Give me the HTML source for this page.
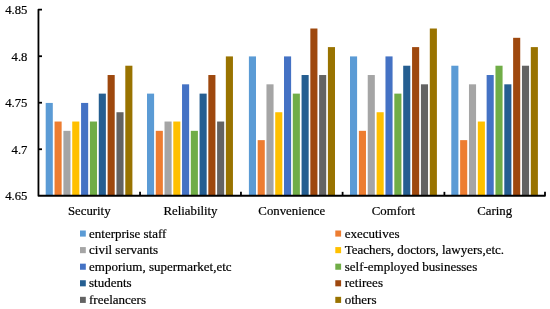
<!DOCTYPE html><html><head><meta charset="utf-8"><title>chart</title><style>html,body{margin:0;padding:0;background:#fff}svg{display:block}text{font-family:"Liberation Serif",serif;font-size:13px;fill:#000;stroke:#000;stroke-width:0.2px}.y{font-size:12.7px}.c{font-size:12.8px}</style></head><body>
<svg width="550" height="309" viewBox="0 0 550 309">
<rect width="550" height="309" fill="#fff"/>
<rect x="45.70" y="102.93" width="7.1" height="92.82" fill="#5B9BD5"/>
<rect x="54.54" y="121.53" width="7.1" height="74.22" fill="#ED7D31"/>
<rect x="63.39" y="130.83" width="7.1" height="64.92" fill="#A5A5A5"/>
<rect x="72.23" y="121.53" width="7.1" height="74.22" fill="#FFC000"/>
<rect x="81.08" y="102.93" width="7.1" height="92.82" fill="#4472C4"/>
<rect x="89.92" y="121.53" width="7.1" height="74.22" fill="#70AD47"/>
<rect x="98.77" y="93.62" width="7.1" height="102.13" fill="#255E91"/>
<rect x="107.61" y="75.02" width="7.1" height="120.73" fill="#9E480E"/>
<rect x="116.46" y="112.23" width="7.1" height="83.52" fill="#636363"/>
<rect x="125.30" y="65.72" width="7.1" height="130.03" fill="#997300"/>
<rect x="147.00" y="93.62" width="7.1" height="102.13" fill="#5B9BD5"/>
<rect x="155.76" y="130.83" width="7.1" height="64.92" fill="#ED7D31"/>
<rect x="164.52" y="121.53" width="7.1" height="74.22" fill="#A5A5A5"/>
<rect x="173.28" y="121.53" width="7.1" height="74.22" fill="#FFC000"/>
<rect x="182.04" y="84.32" width="7.1" height="111.43" fill="#4472C4"/>
<rect x="190.81" y="130.83" width="7.1" height="64.92" fill="#70AD47"/>
<rect x="199.57" y="93.62" width="7.1" height="102.13" fill="#255E91"/>
<rect x="208.33" y="75.02" width="7.1" height="120.73" fill="#9E480E"/>
<rect x="217.09" y="121.53" width="7.1" height="74.22" fill="#636363"/>
<rect x="225.85" y="56.41" width="7.1" height="139.34" fill="#997300"/>
<rect x="248.90" y="56.41" width="7.1" height="139.34" fill="#5B9BD5"/>
<rect x="257.68" y="140.14" width="7.1" height="55.61" fill="#ED7D31"/>
<rect x="266.46" y="84.32" width="7.1" height="111.43" fill="#A5A5A5"/>
<rect x="275.23" y="112.23" width="7.1" height="83.52" fill="#FFC000"/>
<rect x="284.01" y="56.41" width="7.1" height="139.34" fill="#4472C4"/>
<rect x="292.79" y="93.62" width="7.1" height="102.13" fill="#70AD47"/>
<rect x="301.57" y="75.02" width="7.1" height="120.73" fill="#255E91"/>
<rect x="310.34" y="28.51" width="7.1" height="167.24" fill="#9E480E"/>
<rect x="319.12" y="75.02" width="7.1" height="120.73" fill="#636363"/>
<rect x="327.90" y="47.11" width="7.1" height="148.64" fill="#997300"/>
<rect x="350.00" y="56.41" width="7.1" height="139.34" fill="#5B9BD5"/>
<rect x="358.87" y="130.83" width="7.1" height="64.92" fill="#ED7D31"/>
<rect x="367.73" y="75.02" width="7.1" height="120.73" fill="#A5A5A5"/>
<rect x="376.60" y="112.23" width="7.1" height="83.52" fill="#FFC000"/>
<rect x="385.47" y="56.41" width="7.1" height="139.34" fill="#4472C4"/>
<rect x="394.33" y="93.62" width="7.1" height="102.13" fill="#70AD47"/>
<rect x="403.20" y="65.72" width="7.1" height="130.03" fill="#255E91"/>
<rect x="412.07" y="47.11" width="7.1" height="148.64" fill="#9E480E"/>
<rect x="420.93" y="84.32" width="7.1" height="111.43" fill="#636363"/>
<rect x="429.80" y="28.51" width="7.1" height="167.24" fill="#997300"/>
<rect x="451.30" y="65.72" width="7.1" height="130.03" fill="#5B9BD5"/>
<rect x="460.13" y="140.14" width="7.1" height="55.61" fill="#ED7D31"/>
<rect x="468.97" y="84.32" width="7.1" height="111.43" fill="#A5A5A5"/>
<rect x="477.80" y="121.53" width="7.1" height="74.22" fill="#FFC000"/>
<rect x="486.63" y="75.02" width="7.1" height="120.73" fill="#4472C4"/>
<rect x="495.47" y="65.72" width="7.1" height="130.03" fill="#70AD47"/>
<rect x="504.30" y="84.32" width="7.1" height="111.43" fill="#255E91"/>
<rect x="513.13" y="37.81" width="7.1" height="157.94" fill="#9E480E"/>
<rect x="521.97" y="65.72" width="7.1" height="130.03" fill="#636363"/>
<rect x="530.80" y="47.11" width="7.1" height="148.64" fill="#997300"/>
<path d="M42.0 9.7 H38.45 V195.75 H545.0 V191.85" fill="none" stroke="#000" stroke-width="1.8" stroke-linejoin="round"/>
<path d="M38.45 56.21 H42.0" stroke="#000" stroke-width="1.8"/>
<path d="M38.45 102.73 H42.0" stroke="#000" stroke-width="1.8"/>
<path d="M38.45 149.24 H42.0" stroke="#000" stroke-width="1.8"/>
<path d="M140.05 195.75 V191.85" stroke="#000" stroke-width="1.8"/>
<path d="M240.95 195.75 V191.85" stroke="#000" stroke-width="1.8"/>
<path d="M342.60 195.75 V191.85" stroke="#000" stroke-width="1.8"/>
<path d="M444.40 195.75 V191.85" stroke="#000" stroke-width="1.8"/>
<text class="y" x="27.4" y="14.20" text-anchor="end">4.85</text>
<text class="y" x="27.4" y="60.71" text-anchor="end">4.8</text>
<text class="y" x="27.4" y="107.23" text-anchor="end">4.75</text>
<text class="y" x="27.4" y="153.74" text-anchor="end">4.7</text>
<text class="y" x="27.4" y="200.25" text-anchor="end">4.65</text>
<text class="c" x="89.25" y="215.2" text-anchor="middle">Security</text>
<text class="c" x="190.50" y="215.2" text-anchor="middle">Reliability</text>
<text class="c" x="291.77" y="215.2" text-anchor="middle">Convenience</text>
<text class="c" x="393.50" y="215.2" text-anchor="middle">Comfort</text>
<text class="c" x="494.70" y="215.2" text-anchor="middle">Caring</text>
<rect x="80.0" y="230.50" width="5.8" height="6.1" fill="#5B9BD5"/>
<text x="89.0" y="237.60">enterprise staff</text>
<rect x="335.3" y="230.50" width="5.8" height="6.1" fill="#ED7D31"/>
<text x="344.7" y="237.60">executives</text>
<rect x="80.0" y="247.08" width="5.8" height="6.1" fill="#A5A5A5"/>
<text x="89.0" y="254.18">civil servants</text>
<rect x="335.3" y="247.08" width="5.8" height="6.1" fill="#FFC000"/>
<text x="344.7" y="254.18">Teachers, doctors, lawyers,etc.</text>
<rect x="80.0" y="263.66" width="5.8" height="6.1" fill="#4472C4"/>
<text x="89.0" y="270.76">emporium, supermarket,etc</text>
<rect x="335.3" y="263.66" width="5.8" height="6.1" fill="#70AD47"/>
<text x="344.7" y="270.76">self-employed businesses</text>
<rect x="80.0" y="280.24" width="5.8" height="6.1" fill="#255E91"/>
<text x="89.0" y="287.34">students</text>
<rect x="335.3" y="280.24" width="5.8" height="6.1" fill="#9E480E"/>
<text x="344.7" y="287.34">retirees</text>
<rect x="80.0" y="296.82" width="5.8" height="6.1" fill="#636363"/>
<text x="89.0" y="303.92">freelancers</text>
<rect x="335.3" y="296.82" width="5.8" height="6.1" fill="#997300"/>
<text x="344.7" y="303.92">others</text>
</svg></body></html>
